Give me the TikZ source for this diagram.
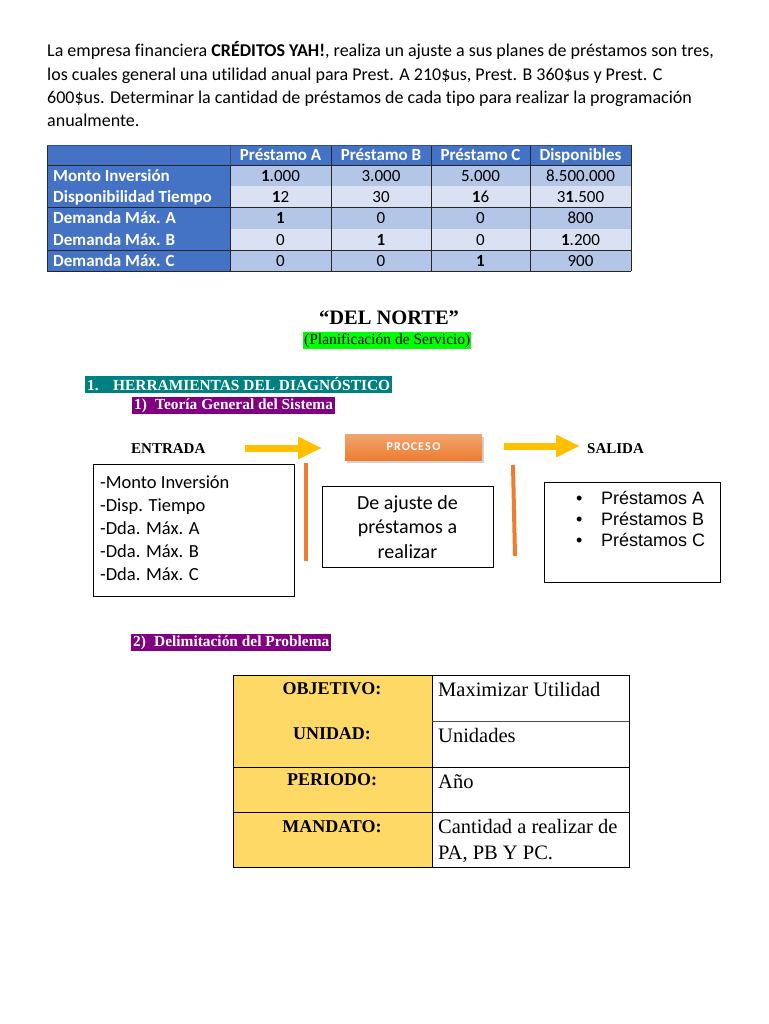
\documentclass[tikz,border=0pt]{standalone}
\usepackage{fontspec}
\setmainfont{Liberation Serif}
\newfontfamily\calf[Ligatures=NoCommon]{Carlito}
\newfontfamily\arialf{Liberation Sans}
\usetikzlibrary{arrows.meta,shadows}
\definecolor{tblue}{RGB}{68,114,196}
\definecolor{tdark}{RGB}{180,198,231}
\definecolor{tlight}{RGB}{217,225,242}
\definecolor{tealc}{RGB}{0,128,128}
\definecolor{purplec}{RGB}{128,0,128}
\definecolor{greenc}{RGB}{0,255,0}
\definecolor{arrowy}{RGB}{255,192,0}
\definecolor{orangec}{RGB}{237,125,49}
\definecolor{goldc}{RGB}{255,217,102}
\tikzset{
  para/.style={anchor=base west, inner sep=0, font=\calf\fontsize{18}{22}\selectfont},
  hdr/.style={anchor=base, inner sep=0, text=white, font=\calf\bfseries\fontsize{17}{20}\selectfont},
  rowlbl/.style={anchor=base west, inner sep=0, text=white, font=\calf\bfseries\fontsize{17}{20}\selectfont},
  cell/.style={anchor=base, inner sep=0, font=\calf\fontsize{17}{20}\selectfont},
  hlbar/.style={anchor=west, inner xsep=2pt, inner ysep=0pt, minimum height=17pt, text=white, font=\bfseries\fontsize{15.4}{17}\selectfont},
  bigarrow/.style={line width=7pt, draw=arrowy, -{Triangle[length=24pt,width=21pt]}},
  vline/.style={line width=4pt, draw=orangec},
  plainbox/.style={draw=black, line width=0.8pt, inner sep=0pt},
  caltext/.style={anchor=base west, inner sep=0, font=\calf\fontsize{18.5}{22}\selectfont},
  midtext/.style={anchor=base, inner sep=0, font=\calf\fontsize{20}{24}\selectfont},
  ariatext/.style={anchor=base west, inner sep=0, font=\arialf\fontsize{18}{21}\selectfont},
  iolbl/.style={anchor=base west, inner sep=0, font=\bfseries\fontsize{15}{17}\selectfont},
  dlbl/.style={anchor=base, inner sep=0, font=\bfseries\fontsize{18}{21}\selectfont},
  dval/.style={anchor=base west, inner sep=0, font=\fontsize{20.5}{24}\selectfont},
}
\begin{document}
\begin{tikzpicture}[x=1pt,y=-1pt]
\useasboundingbox[fill=white] (0,0) rectangle (768,1024);

% ---------- paragraph ----------
\node[para] (p1) at (47,57) {La empresa financiera \textbf{CRÉDITOS YAH!}, realiza un ajuste a sus planes de préstamos son tres,};
\node[para] (p2) at (47,81) {los cuales general una utilidad anual para Prest. A 210\$us, Prest. B 360\$us y Prest. C};
\node[para] (p3) at (47,104) {600\$us. Determinar la cantidad de préstamos de cada tipo para realizar la programación};
\node[para] (p4) at (47,127) {anualmente.};

% ---------- table ----------
\fill[tblue] (47,145) rectangle (631,165);
\fill[tblue] (47,165) rectangle (230,271);
\fill[tdark] (230,165) rectangle (631,186);
\fill[tlight] (230,186) rectangle (631,207);
\fill[tdark] (230,207) rectangle (631,229);
\fill[tlight] (230,229) rectangle (631,250);
\fill[tdark] (230,250) rectangle (631,271);
\draw[line width=0.7pt, black!85] (47,165) -- (631,165) (47,207) -- (631,207) (47,250) -- (631,250)
  (47,271) -- (631,271) (47,145) -- (47,271) (631,145) -- (631,271)
  (230,165) -- (230,271) (331,145) -- (331,271) (431,145) -- (431,271) (530,145) -- (530,271);
\draw[line width=0.5pt, tblue!70!black] (230,145) -- (230,165) (47,145) -- (631,145);

\node[hdr] (h2) at (280.5,160.5) {Préstamo A};
\node[hdr] (h3) at (381,160.5) {Préstamo B};
\node[hdr] (h4) at (480.5,160.5) {Préstamo C};
\node[hdr] (h5) at (580.5,160.5) {Disponibles};

\node[rowlbl] (r1) at (53,181.5) {Monto Inversión};
\node[rowlbl] (r2) at (53,202.5) {Disponibilidad Tiempo};
\node[rowlbl] (r3) at (53,224) {Demanda Máx. A};
\node[rowlbl] (r4) at (53,245.5) {Demanda Máx. B};
\node[rowlbl] (r5) at (53,266.5) {Demanda Máx. C};

\node[cell] (c12) at (280.5,181.5) {\textbf{1}.000};
\node[cell] (c13) at (381,181.5) {3.000};
\node[cell] (c14) at (480.5,181.5) {5.000};
\node[cell] (c15) at (580.5,181.5) {8.500.000};
\node[cell] (c22) at (280.5,202.5) {\textbf{1}2};
\node[cell] (c23) at (381,202.5) {30};
\node[cell] (c24) at (480.5,202.5) {\textbf{1}6};
\node[cell] (c25) at (580.5,202.5) {3\textbf{1}.500};
\node[cell] (c32) at (280.5,224) {\textbf{1}};
\node[cell] (c33) at (381,224) {0};
\node[cell] (c34) at (480.5,224) {0};
\node[cell] (c35) at (580.5,224) {800};
\node[cell] (c42) at (280.5,245.5) {0};
\node[cell] (c43) at (381,245.5) {\textbf{1}};
\node[cell] (c44) at (480.5,245.5) {0};
\node[cell] (c45) at (580.5,245.5) {\textbf{1}.200};
\node[cell] (c52) at (280.5,266.5) {0};
\node[cell] (c53) at (381,266.5) {0};
\node[cell] (c54) at (480.5,266.5) {\textbf{1}};
\node[cell] (c55) at (580.5,266.5) {900};

% ---------- titles ----------
\node[anchor=base, inner sep=0, font=\bfseries\fontsize{20.5}{24}\selectfont] (title) at (389,324) {“DEL NORTE”};
\node[anchor=west, fill=greenc, inner xsep=1pt, inner ysep=0pt, minimum height=17pt, font=\fontsize{15.5}{17}\selectfont] (sub) at (303,340.5) {(Planificación de Servicio)};

\node[hlbar, fill=tealc] (sec1) at (85,384.5) {\makebox[26pt][l]{1.}HERRAMIENTAS DEL DIAGNÓSTICO};
\node[hlbar, fill=purplec] (sub1) at (132,405.5) {\makebox[21pt][l]{1)}Teoría General del Sistema};

% ---------- system diagram ----------
\node[iolbl] (entrada) at (131,453) {ENTRADA};
\node[iolbl] (salida) at (587,453) {SALIDA};
\coordinate (a1s) at (245,448);
\coordinate (a1e) at (322,448);
\coordinate (a2s) at (504,446);
\coordinate (a2e) at (580,446);
\draw[bigarrow] (a1s) -- (a1e);
\draw[bigarrow] (a2s) -- (a2e);

\node[minimum width=137pt, minimum height=26pt, inner sep=0, top color=orangec!70!white, bottom color=orangec, draw=none,
  drop shadow={shadow xshift=2pt, shadow yshift=-2.5pt, opacity=0.35},
  text=white, font=\calf\bfseries\fontsize{12}{14}\selectfont] (proc) at (413.5,447) {P\kern1ptR\kern1ptO\kern1ptC\kern1ptE\kern1ptS\kern1.5ptO};

\coordinate (v1t) at (306,463);
\coordinate (v1b) at (306,561);
\coordinate (v2t) at (513,465);
\coordinate (v2b) at (515,556);
\draw[vline] (v1t) -- (v1b);
\draw[vline] (v2t) -- (v2b);

\node[plainbox, minimum width=201pt, minimum height=132pt] (inbox) at (193.5,530) {};
\node[caltext] (i1) at (100,488) {-Monto Inversión};
\node[caltext] (i2) at (100,511) {-Disp. Tiempo};
\node[caltext] (i3) at (100,534) {-Dda. Máx. A};
\node[caltext] (i4) at (100,557) {-Dda. Máx. B};
\node[caltext] (i5) at (100,580) {-Dda. Máx. C};

\node[plainbox, minimum width=171pt, minimum height=81pt] (midbox) at (407.5,526.5) {};
\node[midtext] (m1) at (407.5,509) {De ajuste de};
\node[midtext] (m2) at (407.5,533.5) {préstamos a};
\node[midtext] (m3) at (407.5,558) {realizar};

\node[plainbox, minimum width=176pt, minimum height=100pt] (outbox) at (632,532) {};
\node[ariatext] (b1) at (576,504) {•};
\node[ariatext] (b2) at (576,525) {•};
\node[ariatext] (b3) at (576,546) {•};
\node[ariatext] (o1) at (601,504) {Préstamos A};
\node[ariatext] (o2) at (601,525) {Préstamos B};
\node[ariatext] (o3) at (601,546) {Préstamos C};

% ---------- delimitation ----------
\node[hlbar, fill=purplec] (sub2) at (131,642.5) {\makebox[21pt][l]{2)}Delimitación del Problema\hspace{3pt}};

\fill[goldc] (233,675) rectangle (432,867);
\draw[line width=0.9pt, black] (233,675) rectangle (629,867);
\draw[line width=0.9pt, black] (432,675) -- (432,867) (233,767) -- (629,767) (233,812) -- (629,812);
\draw[line width=0.9pt, black!70] (432,721) -- (629,721);

\node[dlbl] (l1) at (332,694) {OBJETIVO:};
\node[dlbl] (l2) at (332,739) {UNIDAD:};
\node[dlbl] (l3) at (332,785) {PERIODO:};
\node[dlbl] (l4) at (332,832) {MANDATO:};
\node[dval] (v1) at (438,696) {Maximizar Utilidad};
\node[dval] (v2) at (438,742) {Unidades};
\node[dval] (v3) at (438,788) {Año};
\node[dval] (v4) at (438,833) {Cantidad a realizar de};
\node[dval] (v5) at (438,859) {PA, PB Y PC.};
\end{tikzpicture}
\end{document}
